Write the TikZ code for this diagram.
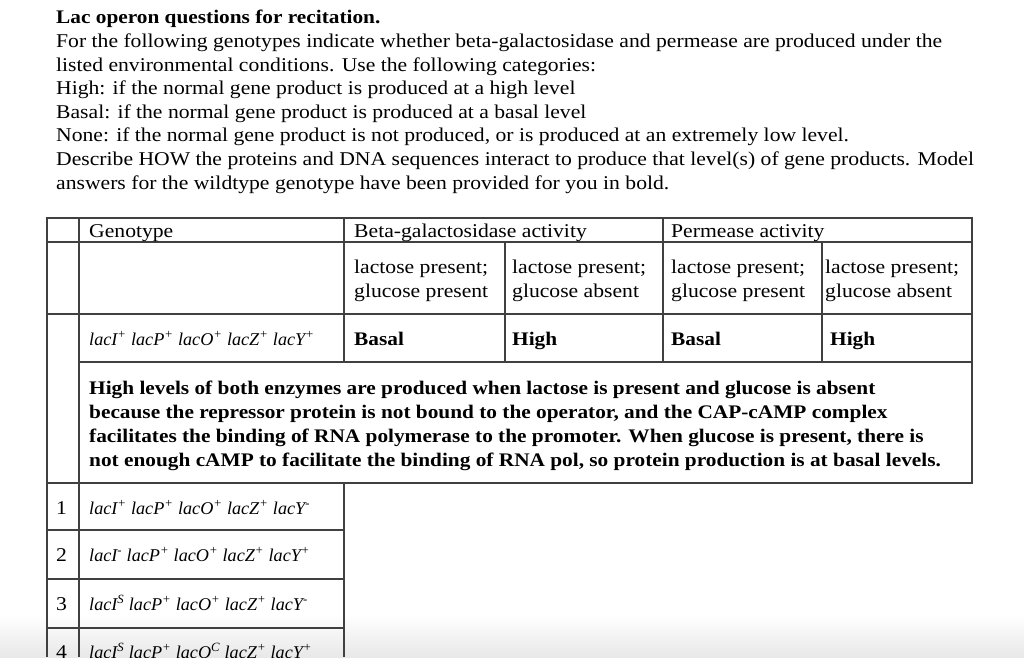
\documentclass[tikz,border=0pt]{standalone}
\usepackage{fontspec}
\setmainfont{Liberation Serif}[FakeStretch=1.11]
\begin{document}
\begin{tikzpicture}[x=1pt,y=-1pt,
  txt/.style={anchor=base west,inner sep=0pt,font=\fontsize{19.5}{22}\selectfont},
  bt/.style={txt,font=\fontsize{19.2}{22}\selectfont\bfseries},
  gt/.style={txt,font=\fontsize{18}{22}\selectfont\addfontfeature{FakeStretch=1.01}\itshape},
  grid/.style={draw=black!75,line width=1.1pt}]
\useasboundingbox (0,0) rectangle (1024,657);
\shade[top color=white,bottom color=black!9] (0,615) rectangle (1024,657);
% heading text
\node[bt] (h0) at (56,23) {Lac operon questions for recitation.};
\node[txt] (h1) at (56,47) {For the following genotypes indicate whether beta-galactosidase and permease are produced under the};
\node[txt] (h2) at (56,71) {listed environmental conditions. Use the following categories:};
\node[txt] (h3) at (56,94) {High: if the normal gene product is produced at a high level};
\node[txt] (h4) at (56,118) {Basal: if the normal gene product is produced at a basal level};
\node[txt] (h5) at (56,141) {None: if the normal gene product is not produced, or is produced at an extremely low level.};
\node[txt] (h6) at (56,165) {Describe HOW the proteins and DNA sequences interact to produce that level(s) of gene products. Model};
\node[txt] (h7) at (56,189) {answers for the wildtype genotype have been provided for you in bold.};
% table grid
\draw[grid] (47,218) rectangle (972,483);
\draw[grid] (47,242) -- (972,242);
\draw[grid] (47,314) -- (972,314);
\draw[grid] (79,362) -- (972,362);
\draw[grid] (79,218) -- (79,483);
\draw[grid] (344,218) -- (344,362);
\draw[grid] (663,218) -- (663,362);
\draw[grid] (505,242) -- (505,362);
\draw[grid] (822,242) -- (822,362);
% lower table
\draw[grid] (47,483) -- (47,657);
\draw[grid] (79,483) -- (79,657);
\draw[grid] (344,483) -- (344,657);
\draw[grid] (47,530) -- (344,530);
\draw[grid] (47,579) -- (344,579);
\draw[grid] (47,628) -- (344,628);
% table texts
\node[txt] (g) at (89,237) {Genotype};
\node[txt] (b) at (354,237) {Beta-galactosidase activity};
\node[txt] (p) at (671,237) {Permease activity};
\node[txt] (c1a) at (354,273) {lactose present;};
\node[txt] (c1b) at (354,297) {glucose present};
\node[txt] (c2a) at (512,273) {lactose present;};
\node[txt] (c2b) at (512,297) {glucose absent};
\node[txt] (c3a) at (671,273) {lactose present;};
\node[txt] (c3b) at (671,297) {glucose present};
\node[txt] (c4a) at (825,273) {lactose present;};
\node[txt] (c4b) at (825,297) {glucose absent};
\node[gt] (wt) at (89,345) {lacI\textsuperscript{+} lacP\textsuperscript{+} lacO\textsuperscript{+} lacZ\textsuperscript{+} lacY\textsuperscript{+}};
\node[bt] (v1) at (354,345) {Basal};
\node[bt] (v2) at (512,345) {High};
\node[bt] (v3) at (671,345) {Basal};
\node[bt] (v4) at (830,345) {High};
\node[bt] (m1) at (89,394) {High levels of both enzymes are produced when lactose is present and glucose is absent};
\node[bt] (m2) at (89,418) {because the repressor protein is not bound to the operator, and the CAP-cAMP complex};
\node[bt] (m3) at (89,442) {facilitates the binding of RNA polymerase to the promoter. When glucose is present, there is};
\node[bt] (m4) at (89,466) {not enough cAMP to facilitate the binding of RNA pol, so protein production is at basal levels.};
\node[txt] (n1) at (56,514) {1};
\node[txt] (n2) at (56,561) {2};
\node[txt] (n3) at (56,610) {3};
\node[txt] (n4) at (56,658) {4};
\node[gt] (r1) at (89,514) {lacI\textsuperscript{+} lacP\textsuperscript{+} lacO\textsuperscript{+} lacZ\textsuperscript{+} lacY\textsuperscript{-}};
\node[gt] (r2) at (89,561) {lacI\textsuperscript{-} lacP\textsuperscript{+} lacO\textsuperscript{+} lacZ\textsuperscript{+} lacY\textsuperscript{+}};
\node[gt] (r3) at (89,610) {lacI\textsuperscript{S} lacP\textsuperscript{+} lacO\textsuperscript{+} lacZ\textsuperscript{+} lacY\textsuperscript{-}};
\node[gt] (r4) at (89,658) {lacI\textsuperscript{S} lacP\textsuperscript{+} lacO\textsuperscript{C} lacZ\textsuperscript{+} lacY\textsuperscript{+}};
\end{tikzpicture}
\end{document}
